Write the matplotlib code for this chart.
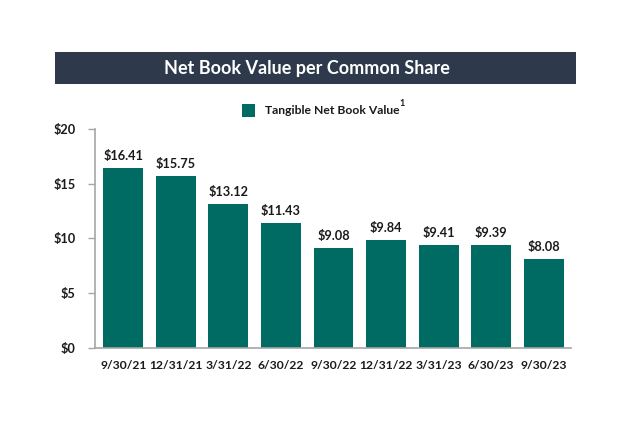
import matplotlib
matplotlib.use("Agg")
import matplotlib.pyplot as plt
from matplotlib.patches import Rectangle

categories = ["9/30/21", "12/31/21", "3/31/22", "6/30/22", "9/30/22",
              "12/31/22", "3/31/23", "6/30/23", "9/30/23"]
values = [16.41, 15.75, 13.12, 11.43, 9.08, 9.84, 9.41, 9.39, 8.08]
yticks = [0, 5, 10, 15, 20]
ytick_labels = ["$0", "$5", "$10", "$15", "$20"]
series_name = "Tangible Net Book Value"
title = "Net Book Value per Common Share"

plt.rcParams['font.family'] = ['Lato', 'DejaVu Sans']

W, H = 640, 437
fig = plt.figure(figsize=(W / 100, H / 100), dpi=100)
fig.patch.set_facecolor("white")

bar_color = "#006B63"
band_color = "#2E3A4B"
axis_grey = "#A6A6A6"
text_color = "#1A1A1A"

# Title band
fig.patches.append(Rectangle((55 / W, 1 - 84 / H), (576 - 55) / W, (84 - 52) / H,
                             transform=fig.transFigure, facecolor=band_color,
                             edgecolor="none", zorder=0))
fig.text(307 / W, 1 - 68.5 / H, title, color="white", fontsize=13,
         fontweight="bold", ha="center", va="center")

# Legend
fig.patches.append(Rectangle((242 / W, 1 - 117 / H), 13 / W, 13 / H,
                             transform=fig.transFigure, facecolor=bar_color,
                             edgecolor="none"))
fig.text(265 / W, 1 - 111 / H, series_name, fontsize=8.7, fontweight="bold",
         color=text_color, ha="left", va="center")
fig.text(399 / W, 1 - 104 / H, "1", fontsize=6.5, fontweight="bold",
         color=text_color, ha="left", va="center")

ax = fig.add_axes([95 / W, 1 - 347.5 / H, (571 - 95) / W, (347.5 - 129.3) / H])
x = list(range(len(categories)))
bars = ax.bar(x, values, width=0.76, color=bar_color, zorder=2)
for xi, v in zip(x, values):
    ax.text(xi, v + 0.55, f"${v:.2f}", ha="center", va="bottom", fontsize=9.2,
            fontweight="bold", color=text_color)

ax.set_xlim(-0.54, 8.52)
ax.set_ylim(0, 20)
ax.set_yticks(yticks)
ax.set_yticklabels(ytick_labels, fontsize=9.2, fontweight="bold", color=text_color)
ax.set_xticks(x)
ax.set_xticklabels(categories, fontsize=8.7, fontweight="bold", color=text_color)
ax.tick_params(axis="x", length=0, pad=9)
ax.tick_params(axis="y", length=5, color=axis_grey, width=1, pad=9)
for s in ["top", "right"]:
    ax.spines[s].set_visible(False)
for s in ["left", "bottom"]:
    ax.spines[s].set_color(axis_grey)
    ax.spines[s].set_linewidth(1.2)
ax.set_facecolor("white")

fig.savefig("out.png", dpi=100, facecolor="white")
